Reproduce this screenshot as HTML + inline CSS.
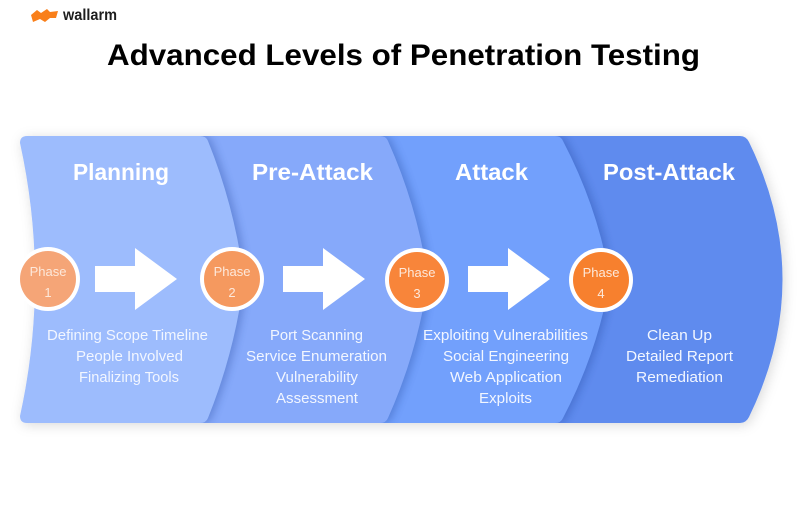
<!DOCTYPE html>
<html>
<head>
<meta charset="utf-8">
<style>
  html,body{margin:0;padding:0;background:#ffffff;}
  svg{display:block;}
  text{font-family:"Liberation Sans", sans-serif;}
</style>
</head>
<body>
<svg width="800" height="519" viewBox="0 0 800 519" xmlns="http://www.w3.org/2000/svg">
  <defs>
    <filter id="blur" x="-20%" y="-20%" width="140%" height="140%">
      <feGaussianBlur stdDeviation="4"/>
    </filter>
    <filter id="outer" x="-20%" y="-20%" width="140%" height="140%">
      <feDropShadow dx="2" dy="2" stdDeviation="6" flood-color="#000000" flood-opacity="0.15"/>
    </filter>
    <path id="p1" d="M 27,136 L 200,136 Q 206,136 208,141 Q 235,208 244,279.5 Q 235,351 208,418 Q 206,423 200,423 L 27,423 Q 20,423 20,416 Q 50,279.5 20,143 Q 20,136 27,136 Z"/>
    <path id="p2" d="M 150,136 L 380,136 Q 386,136 388,141 Q 418,208 428,279.5 Q 418,351 388,418 Q 386,423 380,423 L 150,423 Z"/>
    <path id="p3" d="M 330,136 L 555,136 Q 561,136 563,141 Q 598,208 610,279.5 Q 598,351 563,418 Q 561,423 555,423 L 330,423 Z"/>
    <path id="p4" d="M 510,136 L 740,136 Q 746,136 749,142 Q 816,279.5 749,417 Q 746,423 740,423 L 510,423 Z"/>
    <clipPath id="c2"><use href="#p2"/></clipPath>
    <clipPath id="c3"><use href="#p3"/></clipPath>
    <clipPath id="c4"><use href="#p4"/></clipPath>
  </defs>
  <rect width="800" height="519" fill="#ffffff"/>

  <!-- logo -->
  <polygon points="31,15 37,10 41,13 47,9 50,12 58,11 56,18 50,18 45,22 40,19 33,22" fill="#f97f1a"/>
  <text x="63" y="20" font-size="16" font-weight="bold" fill="#1d1d1d" textLength="54" lengthAdjust="spacingAndGlyphs">wallarm</text>

  <!-- title -->
  <text x="107" y="65" font-size="30" font-weight="bold" fill="#000000" textLength="593" lengthAdjust="spacingAndGlyphs">Advanced Levels of Penetration Testing</text>

  <!-- panels -->
  <g filter="url(#outer)">
    <use href="#p4" fill="#5f8bee"/>
    <g clip-path="url(#c4)">
      <use href="#p3" fill="#1f3f95" opacity="0.3" transform="translate(4,0)" filter="url(#blur)"/>
    </g>
    <use href="#p3" fill="#72a0fc"/>
    <g clip-path="url(#c3)">
      <use href="#p2" fill="#1f3f95" opacity="0.3" transform="translate(4,0)" filter="url(#blur)"/>
    </g>
    <use href="#p2" fill="#86a9fa"/>
    <g clip-path="url(#c2)">
      <use href="#p1" fill="#1f3f95" opacity="0.3" transform="translate(4,0)" filter="url(#blur)"/>
    </g>
    <use href="#p1" fill="#9dbcfd"/>
  </g>

  <!-- panel titles -->
  <g font-size="23" font-weight="bold" fill="#ffffff">
    <text x="73" y="180" textLength="96" lengthAdjust="spacingAndGlyphs">Planning</text>
    <text x="252" y="180" textLength="121" lengthAdjust="spacingAndGlyphs">Pre-Attack</text>
    <text x="455" y="180" textLength="73" lengthAdjust="spacingAndGlyphs">Attack</text>
    <text x="603" y="180" textLength="132" lengthAdjust="spacingAndGlyphs">Post-Attack</text>
  </g>

  <!-- arrows -->
  <g fill="#ffffff">
    <polygon points="95,266 135,266 135,248 177,279 135,310 135,292 95,292"/>
    <polygon points="283,266 323,266 323,248 365,279 323,310 323,292 283,292"/>
    <polygon points="468,266 508,266 508,248 550,279 508,310 508,292 468,292"/>
  </g>

  <!-- phase circles -->
  <g>
    <circle cx="48" cy="279" r="32" fill="#ffffff"/>
    <circle cx="48" cy="279" r="28" fill="#f5a577"/>
    <circle cx="232" cy="279" r="32" fill="#ffffff"/>
    <circle cx="232" cy="279" r="28" fill="#f5995f"/>
    <circle cx="417" cy="280" r="32" fill="#ffffff"/>
    <circle cx="417" cy="280" r="28" fill="#f8853a"/>
    <circle cx="601" cy="280" r="32" fill="#ffffff"/>
    <circle cx="601" cy="280" r="28" fill="#f7802e"/>
  </g>
  <g font-size="13" fill="#fde8da" text-anchor="middle">
    <text x="48" y="276">Phase</text>
    <text x="48" y="297">1</text>
    <text x="232" y="276">Phase</text>
    <text x="232" y="297">2</text>
    <text x="417" y="277">Phase</text>
    <text x="417" y="298">3</text>
    <text x="601" y="277">Phase</text>
    <text x="601" y="298">4</text>
  </g>

  <!-- body text -->
  <g font-size="14.5" fill="#f2f6ff">
    <text x="47" y="340" textLength="161" lengthAdjust="spacingAndGlyphs">Defining Scope Timeline</text>
    <text x="76" y="361" textLength="107" lengthAdjust="spacingAndGlyphs">People Involved</text>
    <text x="79" y="382" textLength="100" lengthAdjust="spacingAndGlyphs">Finalizing Tools</text>

    <text x="270" y="340" textLength="93" lengthAdjust="spacingAndGlyphs">Port Scanning</text>
    <text x="246" y="361" textLength="141" lengthAdjust="spacingAndGlyphs">Service Enumeration</text>
    <text x="276" y="382" textLength="82" lengthAdjust="spacingAndGlyphs">Vulnerability</text>
    <text x="276" y="403" textLength="82" lengthAdjust="spacingAndGlyphs">Assessment</text>

    <text x="423" y="340" textLength="165" lengthAdjust="spacingAndGlyphs">Exploiting Vulnerabilities</text>
    <text x="443" y="361" textLength="126" lengthAdjust="spacingAndGlyphs">Social Engineering</text>
    <text x="450" y="382" textLength="112" lengthAdjust="spacingAndGlyphs">Web Application</text>
    <text x="479" y="403" textLength="53" lengthAdjust="spacingAndGlyphs">Exploits</text>

    <text x="647" y="340" textLength="65" lengthAdjust="spacingAndGlyphs">Clean Up</text>
    <text x="626" y="361" textLength="107" lengthAdjust="spacingAndGlyphs">Detailed Report</text>
    <text x="636" y="382" textLength="87" lengthAdjust="spacingAndGlyphs">Remediation</text>
  </g>
</svg>
</body>
</html>
